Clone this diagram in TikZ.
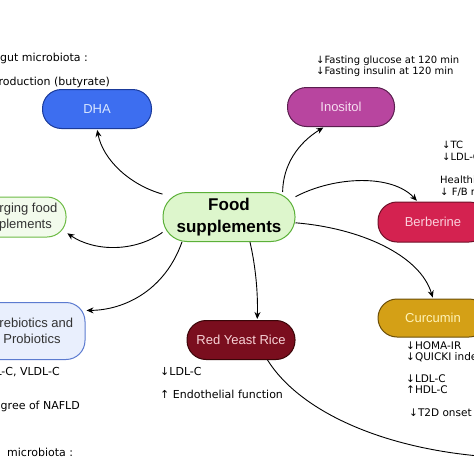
\documentclass[tikz,border=0pt]{standalone}
\usepackage{fontspec}
\setmainfont{DejaVu Sans}
\newfontfamily\boxfont{Liberation Sans}
\usetikzlibrary{arrows.meta, positioning}
\definecolor{dhafill}{HTML}{3D6EF0}
\definecolor{dhaline}{HTML}{1A3A9A}
\definecolor{dhatext}{HTML}{D8E6FF}
\definecolor{inofill}{HTML}{B8459F}
\definecolor{inoline}{HTML}{5A1E4E}
\definecolor{inotext}{HTML}{F6DDF0}
\definecolor{berfill}{HTML}{D42250}
\definecolor{berline}{HTML}{6E1028}
\definecolor{bertext}{HTML}{FBD0DC}
\definecolor{curfill}{HTML}{D4A016}
\definecolor{curline}{HTML}{6B4E08}
\definecolor{curtext}{HTML}{FFF3B8}
\definecolor{rysfill}{HTML}{7A0E1E}
\definecolor{rysline}{HTML}{3A0508}
\definecolor{rystext}{HTML}{F7D2D6}
\definecolor{foodfill}{HTML}{DDF6CC}
\definecolor{foodline}{HTML}{5BB038}
\definecolor{emfill}{HTML}{F2FBEC}
\definecolor{emline}{HTML}{6DBB45}
\definecolor{prefill}{HTML}{E9EFFD}
\definecolor{preline}{HTML}{5C7BD0}
\definecolor{boxtext}{HTML}{333333}

\begin{document}
\begin{tikzpicture}[x=1pt, y=-1pt, >={Stealth[length=7pt, width=6pt]},
  pill/.style={draw, line width=1pt, rounded corners=19pt, minimum height=39pt,
    minimum width=108pt, font=\boxfont\fontsize{13}{16}\selectfont, align=center, inner sep=2pt},
  note/.style={font=\fontsize{10}{11.5}\selectfont, align=left, inner sep=0pt},
  bignote/.style={note, font=\fontsize{11}{12.5}\selectfont},
  link/.style={->, line width=0.9pt, shorten >=1pt}]

\useasboundingbox (0,0) rectangle (474,474);
\clip (0,0) rectangle (474,474);

% centre
\node[pill, fill=foodfill, draw=foodline, minimum width=132pt, minimum height=49pt,
  rounded corners=24pt, font=\boxfont\bfseries\fontsize{17}{22}\selectfont] (food) at (229,217) {Food\\supplements};

% supplements
\node[pill, fill=dhafill, draw=dhaline, text=dhatext, minimum width=109pt] (dha) at (97,109) {DHA};
\node[pill, fill=inofill, draw=inoline, text=inotext, minimum width=107pt] (ino) at (341,107) {Inositol};
\node[pill, fill=emfill, draw=emline, text=boxtext, minimum width=102pt, minimum height=40pt] (emerging) at (15,217) {Emerging food\\supplements};
\node[pill, fill=berfill, draw=berline, text=bertext, minimum width=110pt, minimum height=40pt] (ber) at (433,222) {Berberine};
\node[pill, fill=prefill, draw=preline, text=boxtext, minimum width=106pt, minimum height=57pt] (pre) at (32,331) {Prebiotics and\\Probiotics};
\node[pill, fill=rysfill, draw=rysline, text=rystext] (rys) at (241,340) {Red Yeast Rice};
\node[pill, fill=curfill, draw=curline, text=curtext, minimum width=110pt, minimum height=38pt] (cur) at (433,318) {Curcumin};
\coordinate (offpage) at (492,457);

% links
\draw[link] (food.161) .. controls (130,185) and (103,160) .. (dha.south);
\draw[link] (food.25) .. controls (283,165) and (298,143) .. (ino.-130);
\draw[link] (food.17) .. controls (335,176) and (392,174) .. (ber.127);
\draw[link] (food.-5) .. controls (360,228) and (420,255) .. (cur.north);
\draw[link] (food.-50) .. controls (256,268) and (258,295) .. (rys.51);
\draw[link] (food.208) .. controls (165,290) and (125,310) .. (pre.21);
\draw[link] (food.193) .. controls (135,252) and (95,252) .. (emerging.-17);
\draw[line width=0.9pt] (rys.-37) .. controls (300,412) and (385,450) .. (offpage);

% notes
\node[bignote, anchor=east] (dhaA) at (88,58) {gut microbiota :};
\node[bignote, anchor=east] (dhaB) at (110,82) {production (butyrate)};
\node[note, anchor=west] (inoA) at (316,66) {↓Fasting glucose at 120 min\\↓Fasting insulin at 120 min};
\node[note, anchor=west] (berA) at (442,151) {↓TC\\↓LDL-C};
\node[note, anchor=west] (berB) at (440,186) {Healthier\\↓ F/B ratio};
\node[note, anchor=west, font=\fontsize{10.5}{11.5}\selectfont] (curA) at (406,352) {↓HOMA-IR\\↓QUICKI index};
\node[note, anchor=west, font=\fontsize{10.5}{11.5}\selectfont] (curB) at (406,384) {↓LDL-C\\↑HDL-C};
\node[note, anchor=west, font=\fontsize{10.5}{11.5}\selectfont] (curC) at (409,413) {↓T2D onset};
\node[bignote, anchor=east] (preA) at (60,372) {↓LDL-C, VLDL-C};
\node[bignote, anchor=east] (preB) at (80,406) {↓Degree of NAFLD};
\node[bignote, anchor=west] (preC) at (7,452) {microbiota :};
\node[bignote, anchor=west] (rysA) at (160,371) {↓LDL-C};
\node[bignote, anchor=west] (rysB) at (160,394) {↑ Endothelial function};
\end{tikzpicture}
\end{document}
